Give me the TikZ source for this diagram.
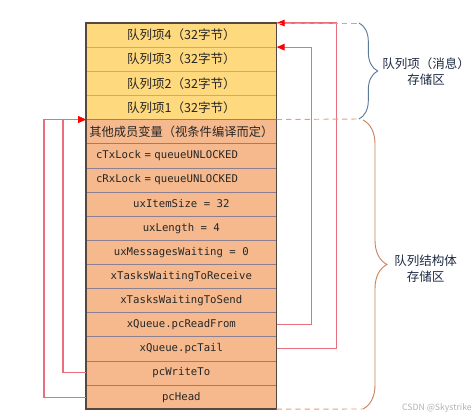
\documentclass[tikz,border=0pt]{standalone}
\usepackage{fontspec}
\setmainfont{Noto Sans CJK SC}
\setmonofont{DejaVu Sans Mono}
\usetikzlibrary{positioning,arrows.meta,decorations.pathreplacing}
\definecolor{itemfill}{HTML}{FFD97D}
\definecolor{itemline}{HTML}{B8AE98}
\definecolor{fieldfill}{HTML}{F6B98E}
\definecolor{fieldline}{HTML}{8C7F8F}
\definecolor{frameline}{HTML}{55493F}
\definecolor{ptrline}{HTML}{E8707D}
\definecolor{guideline}{HTML}{F29A6A}
\definecolor{itembrace}{HTML}{5B7A9A}
\definecolor{fieldbrace}{HTML}{C8865C}
\definecolor{notetext}{HTML}{1F2A44}
\tikzset{
  cell/.style={minimum width=143pt,minimum height=18.1pt,inner sep=0pt,outer sep=0pt,text=black!85},
  itemcell/.style={cell,fill=itemfill,draw=itemline,font=\fontsize{9.4}{11}\selectfont},
  fieldcell/.style={cell,fill=fieldfill,draw=fieldline,font=\ttfamily\fontsize{8}{10}\selectfont},
  leftcell/.style={text width=128pt,align=left},
  frame/.style={draw=frameline,line width=1.1pt},
  ptr/.style={draw=ptrline,line width=0.8pt,-{Triangle[length=6pt,width=5pt,color=red]}},
  guide/.style={draw=guideline,line width=0.7pt,dash pattern=on 4pt off 3pt},
  span/.style={decorate,line width=0.7pt},
  note/.style={align=center,inner sep=0pt,text=notetext,font=\fontsize{9.4}{12}\selectfont}
}
\begin{document}
\begin{tikzpicture}[x=0.75pt,y=-0.75pt]
\useasboundingbox (0,0) rectangle (474,417);
\node[itemcell,anchor=north west] (item4) at (86,23) {队列项4（32字节）};
\foreach \i [remember=\i as \p (initially 4)] in {3,2,1}
  \node[itemcell,below=0pt of item\p] (item\i) {队列项\i（32字节）};
\node[fieldcell,font=\fontsize{9.2}{11}\selectfont,below=0pt of item1] (others) {其他成员变量（视条件编译而定）};
\node[fieldcell,leftcell,below=0pt of others] (txlock) {cTxLock = queueUNLOCKED};
\node[fieldcell,leftcell,below=0pt of txlock] (rxlock) {cRxLock = queueUNLOCKED};
\node[fieldcell,below=0pt of rxlock] (itemsize) {uxItemSize = 32};
\node[fieldcell,below=0pt of itemsize] (length) {uxLength = 4};
\node[fieldcell,below=0pt of length] (waiting) {uxMessagesWaiting = 0};
\node[fieldcell,below=0pt of waiting] (rxlist) {xTasksWaitingToReceive};
\node[fieldcell,below=0pt of rxlist] (txlist) {xTasksWaitingToSend};
\node[fieldcell,below=0pt of txlist] (readfrom) {xQueue.pcReadFrom};
\node[fieldcell,below=0pt of readfrom] (tail) {xQueue.pcTail};
\node[fieldcell,below=0pt of tail] (writeto) {pcWriteTo};
\node[fieldcell,below=0pt of writeto] (head) {pcHead};
\draw[frame] (item4.north west) rectangle (head.south east);

\draw[ptr] (head.west) -- ++(-42,0) |- (item1.south west);
\draw[ptr] (writeto.west) -- ++(-23,0) |- (item1.south west);
\draw[ptr] (readfrom.east) -- ++(35,0) |- (item4.south east);
\draw[ptr] (tail.east) -- ++(60,0) |- (item4.north east);

\coordinate (itemtop) at (359,23);
\coordinate (itembot) at (359,119);
\coordinate (fieldtop) at (363,120);
\coordinate (fieldbot) at (363,409);
\draw[guide] (item4.north east) -- (itemtop);
\draw[guide] (item1.south east) -- (itembot);
\draw[guide] (head.south east) -- (fieldbot);
\draw[span,draw=itembrace,decoration={brace,amplitude=14pt}] (itemtop) -- (itembot);
\draw[span,draw=fieldbrace,decoration={brace,amplitude=18pt}] (fieldtop) -- (fieldbot);
\node[note,anchor=west] (itemnote) at (382,72) {队列项（消息）\\存储区};
\node[note,anchor=west] (fieldnote) at (394,269) {队列结构体\\存储区};
\node[anchor=east,inner sep=0pt,text=black!30,font=\fontsize{6.5}{8}\selectfont] (mark) at (472,408) {CSDN @Skystrike};
\end{tikzpicture}
\end{document}
